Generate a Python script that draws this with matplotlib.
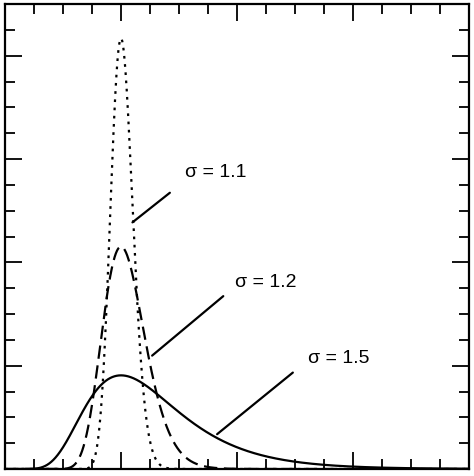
import numpy as np
import matplotlib.pyplot as plt
from matplotlib.ticker import MultipleLocator

plt.rcParams['font.family'] = ['Liberation Sans', 'DejaVu Sans']

# geometric standard deviations and their line styles
sigmas = [1.1, 1.2, 1.5]
styles = [(0, (1.2, 2.5)), (0, (6, 3)), '-']
mode = 1.0  # all curves peak at the same position

# label text position and leader line (start, end) in data units
label_pos = [(1.82, 2.88), (2.25, 1.81), (2.88, 1.08)]
line_from = [(1.08, 2.37), (1.25, 1.08), (1.81, 0.32)]
line_to = [(1.44, 2.69), (1.90, 1.69), (2.50, 0.95)]

x = np.linspace(0.001, 4, 2000)

fig = plt.figure(figsize=(4.74, 4.77), dpi=100)
ax = fig.add_axes([5 / 474, 7 / 477, 464 / 474, 465 / 477])

for s, ls, lp, lf, lt in zip(sigmas, styles, label_pos, line_from, line_to):
    ls_ = np.log(s)
    median = mode * np.exp(ls_ ** 2)
    pdf = np.exp(-(np.log(x / median)) ** 2 / (2 * ls_ ** 2)) / (x * ls_ * np.sqrt(2 * np.pi))
    ax.plot(x, pdf, color='black', linestyle=ls, linewidth=1.6)
    ax.annotate('', xy=lf, xytext=lt, arrowprops=dict(arrowstyle='-', color='black', lw=1.6))
    ax.text(lp[0], lp[1], f'σ = {s}', ha='center', va='center', fontsize=14)

ax.set_xlim(0, 4)
ax.set_ylim(0, 4.5)
ax.xaxis.set_major_locator(MultipleLocator(1))
ax.xaxis.set_minor_locator(MultipleLocator(0.25))
ax.yaxis.set_major_locator(MultipleLocator(1))
ax.yaxis.set_minor_locator(MultipleLocator(0.25))
ax.tick_params(which='both', direction='in', top=True, right=True,
               labelbottom=False, labelleft=False, width=1.3)
ax.tick_params(which='major', length=12)
ax.tick_params(which='minor', length=7)
for sp in ax.spines.values():
    sp.set_linewidth(1.6)

fig.savefig('out.png', dpi=100)
